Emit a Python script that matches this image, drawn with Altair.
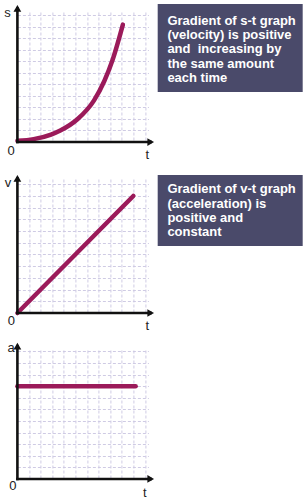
import altair as alt
import pandas as pd

# ---------------- data ----------------
ST_T = [0, 1.4, 2.9, 3.7, 5.2, 6.6, 7.5, 8.2, 9.1]
ST_S = [0.1, 0.25, 0.65, 1.0, 2.0, 3.6, 5.3, 7.1, 10.2]
VT_T = [0, 10]
VT_V = [0, 10]
AT_T = [0, 10.2]
AT_A = [8, 8]
GRID = list(range(1, 12))
BOX1_LINES = ["Gradient of s-t graph", "(velocity) is positive",
              "and\u00a0 increasing by", "the same amount", "each time"]
BOX2_LINES = ["Gradient of v-t graph", "(acceleration) is",
              "positive and", "constant"]
Y_NAMES = ["s", "v", "a"]
ORIGIN_LABEL = "0"
X_NAME = "t"

# ---------------- style ----------------
CURVE = "#9b1a5a"
BOX_FILL = "#4a4a6a"
GRID_COLOR = "#cfcbe4"
INK = "#111111"
LABEL_INK = "#222222"
FONT = "Liberation Sans"

W = 131
XD = 11.3
X_ARROW = 11.5


def panel(t, y, H, YD, y_arrow, labels, box=None):
    xs = alt.Scale(domain=[0, XD], nice=False, zero=False)
    ys = alt.Scale(domain=[0, YD], nice=False, zero=False)
    ax = alt.Axis(grid=True, values=GRID, domain=False, ticks=False,
                  labels=False, title=None, gridDash=[3, 2],
                  gridColor=GRID_COLOR, gridWidth=1, gridOpacity=1)
    X = alt.X("x:Q", scale=xs, axis=ax)
    Y = alt.Y("y:Q", scale=ys, axis=ax)

    curve = alt.Chart(pd.DataFrame({"x": t, "y": y})).mark_line(
        color=CURVE, strokeWidth=4.5, strokeCap="round",
        interpolate="monotone").encode(x=X, y=Y)

    axes_df = pd.DataFrame({"x": [0, 0], "y": [0, 0],
                            "x2": [X_ARROW, 0], "y2": [0, y_arrow]})
    axes = alt.Chart(axes_df).mark_rule(
        color=INK, strokeWidth=2.6, strokeCap="square").encode(
        x=X, y=Y, x2="x2:Q", y2="y2:Q")

    heads_df = pd.DataFrame({"x": [X_ARROW, 0], "y": [0, y_arrow],
                             "shape": ["triangle-right", "triangle-up"]})
    heads = alt.Chart(heads_df).mark_point(
        filled=True, color=INK, opacity=1, size=60).encode(
        x=X, y=Y, shape=alt.Shape("shape:N", scale=None))

    layers = [curve, axes, heads]
    texts = [Y_NAMES[labels[0]], ORIGIN_LABEL, X_NAME]
    for txt, (px, py) in zip(texts, labels[1]):
        layers.append(
            alt.Chart(pd.DataFrame({"txt": [txt]})).mark_text(
                font=FONT, fontSize=13, color=LABEL_INK, align="center",
                baseline="alphabetic").encode(
                text="txt:N", x=alt.value(px), y=alt.value(py)))

    if box is not None:
        lines, (bx0, bx1, by0, by1), (tx, ty) = box
        bdf = pd.DataFrame({"txt": ["\n".join(lines)]})
        layers.append(alt.Chart(bdf).mark_rect(color=BOX_FILL).encode(
            x=alt.value(bx0), x2=alt.value(bx1),
            y=alt.value(by0), y2=alt.value(by1)))
        layers.append(alt.Chart(bdf).mark_text(
            font=FONT, fontSize=13, fontWeight="bold", color="white",
            align="left", baseline="alphabetic", lineBreak="\n",
            lineHeight=14.3).encode(
            text="txt:N", x=alt.value(tx), y=alt.value(ty)))

    return alt.layer(*layers).properties(width=W, height=H)


r1 = panel(ST_T, ST_S, 130, 11.3, 11.61,
           (0, [(-10, 4.7), (-6.4, 143), (130, 147.3)]),
           (BOX1_LINES, (140.3, 285.3, -8, 80), (150, 12.7)))
r2 = panel(VT_T, VT_V, 134, 11.45, 11.5,
           (1, [(-9.4, 8.3), (-6, 146), (130, 151)]),
           (BOX2_LINES, (140.3, 285.3, -4, 67), (150, 14.3)))
r3 = panel(AT_T, AT_A, 129, 11.12, 11.45,
           (2, [(-6.4, 1.7), (-4.5, 140), (127.5, 146.7)]))

chart = alt.vconcat(r1, r2, r3, spacing=37, bounds="flush").configure_view(
    stroke=None).properties(
    padding={"left": 3.4, "top": 4, "right": 0, "bottom": 0},
    background="white")

chart.save("out.html", embed_options={"renderer": "svg", "actions": False})
